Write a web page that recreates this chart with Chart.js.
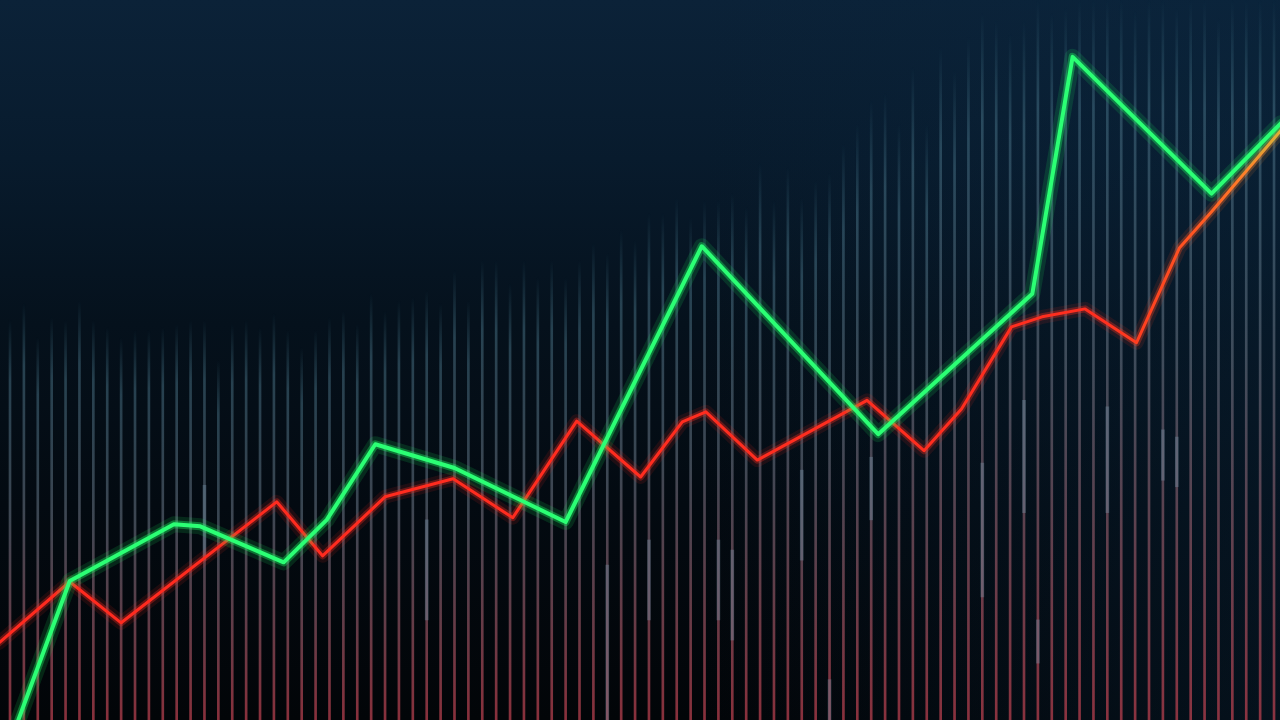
<!DOCTYPE html>
<html>
<head>
<meta charset="utf-8">
<title>Market lines</title>
<script src="https://cdn.jsdelivr.net/npm/chart.js@4.4.1/dist/chart.umd.min.js"></script>
<style>
    html, body {
        margin: 0;
        padding: 0;
        width: 1280px;
        height: 720px;
        overflow: hidden;
        background: linear-gradient(to bottom, #0b2238 0%, #081b2d 22%, #05111c 45%, #030a11 70%, #020508 100%);
    }
    #wrap {
        width: 1280px;
        height: 720px;
        background: linear-gradient(to right, rgba(0, 0, 0, 0) 55%, rgba(10, 40, 65, 0.35) 100%);
    }
</style>
</head>
<body>
<div id="wrap"><canvas id="marketChart" width="1280" height="720"></canvas></div>
<script>
// Session index (one thin line per session) and values on a 0-100 scale
const wickTops = [
    55.6, 57.9, 53.2, 56.0, 55.6, 58.3, 55.6, 54.6, 53.2, 54.2,
    54.2, 54.6, 55.1, 55.6, 55.6, 50.0, 55.1, 55.6, 54.6, 56.5,
    54.2, 51.8, 54.2, 56.0, 56.9, 55.1, 59.3, 56.9, 58.3, 58.8,
    59.7, 57.9, 62.5, 58.3, 63.9, 63.9, 60.7, 63.9, 61.5, 63.9,
    61.5, 63.9, 66.3, 64.9, 68.1, 66.7, 70.4, 70.4, 72.6, 69.9,
    72.2, 72.2, 73.2, 71.3, 77.4, 72.2, 76.8, 72.6, 75.0, 76.0,
    80.1, 82.9, 86.1, 87.1, 82.9, 90.7, 82.9, 93.5, 90.3, 94.9,
    98.2, 97.2, 95.4, 97.2, 100, 98.2, 99.0, 100, 100, 100,
    100, 98.5, 100, 100, 99.0, 100, 100, 97.5, 100, 100,
    100, 100
];

// Brighter candle bodies: session index, low, high
const bodyIndex = [14, 30, 43, 46, 51, 52, 57, 59, 62, 70, 73, 74, 79, 83, 84];
const bodyLow   = [22.2, 13.9, 0, 13.9, 13.9, 11.1, 22.2, 0, 27.8, 17.1, 28.8, 7.9, 28.8, 33.3, 32.4];
const bodyHigh  = [32.6, 27.8, 21.5, 25.0, 25.0, 23.6, 34.7, 5.6, 36.5, 35.7, 44.4, 13.9, 43.5, 40.3, 39.3];

// Green series
const greenX = [0.6, 4.3, 11.8, 13.7, 19.7, 22.8, 26.3, 32.0, 40.0, 49.8, 62.5, 73.6, 76.5, 86.5, 91.5];
const greenY = [0, 19.3, 27.2, 26.9, 21.9, 27.8, 38.3, 35.0, 27.5, 65.8, 39.7, 59.2, 92.1, 73.1, 82.9];

// Red series
const redX = [-0.8, 4.3, 8.0, 19.2, 22.5, 27.0, 31.9, 36.2, 40.8, 45.4, 48.4, 50.1, 53.8,
              61.7, 65.8, 68.5, 72.1, 74.3, 77.4, 81.1, 84.2, 86.5, 91.5];
const redY = [10.7, 19.2, 13.5, 30.3, 22.8, 31.0, 33.5, 28.1, 41.5, 33.75, 41.4, 42.8, 36.1,
              44.4, 37.4, 43.2, 54.6, 56.0, 57.1, 52.4, 65.6, 70.6, 81.9];

const xMin = -0.72;
const xMax = 91.43;

const greenPoints = greenX.map((x, i) => ({ x: x, y: greenY[i] }));
const redPoints = redX.map((x, i) => ({ x: x, y: redY[i] }));

function wickColor(context) {
    const chart = context.chart;
    const raw = context.raw;
    if (!chart.chartArea || !raw) return 'rgba(90, 115, 135, 0.4)';
    const top = chart.scales.y.getPixelForValue(raw.y[1]);
    const bottom = chart.scales.y.getPixelForValue(raw.y[0]);
    const g = chart.ctx.createLinearGradient(0, top, 0, bottom);
    g.addColorStop(0, 'rgba(70, 125, 145, 0)');
    g.addColorStop(0.15, 'rgba(80, 125, 145, 0.45)');
    g.addColorStop(0.5, 'rgba(105, 115, 130, 0.58)');
    g.addColorStop(1, 'rgba(190, 65, 80, 0.72)');
    return g;
}

function redStroke(alpha) {
    return function(context) {
        const area = context.chart.chartArea;
        if (!area) return `rgba(255, 42, 31, ${alpha})`;
        const g = context.chart.ctx.createLinearGradient(area.left, 0, area.right, 0);
        g.addColorStop(0, `rgba(255, 42, 31, ${alpha})`);
        g.addColorStop(0.86, `rgba(255, 46, 31, ${alpha})`);
        g.addColorStop(0.94, `rgba(255, 90, 34, ${alpha})`);
        g.addColorStop(1, `rgba(255, 160, 48, ${alpha})`);
        return g;
    };
}

// line dataset helper (main stroke or soft halo)
function lineSet(label, points, color, width, order) {
    return {
        type: 'line',
        label: label,
        data: points,
        borderColor: color,
        borderWidth: width,
        tension: 0,
        pointRadius: 0,
        borderJoinStyle: 'round',
        borderCapStyle: 'round',
        order: order
    };
}

const ctx = document.getElementById('marketChart').getContext('2d');

new Chart(ctx, {
    data: {
        datasets: [
            lineSet('Green', greenPoints, '#2bff74', 4, 0),
            lineSet('Green glow', greenPoints, 'rgba(30, 255, 100, 0.35)', 8, 1),
            lineSet('Green halo', greenPoints, 'rgba(30, 255, 100, 0.13)', 16, 2),
            lineSet('Red', redPoints, redStroke(1), 3, 3),
            lineSet('Red glow', redPoints, redStroke(0.32), 7, 4),
            lineSet('Red halo', redPoints, redStroke(0.11), 14, 5),
            {
                type: 'bar',
                label: 'Bodies',
                data: bodyIndex.map((x, i) => ({ x: x, y: [bodyLow[i], bodyHigh[i]] })),
                backgroundColor: 'rgba(120, 150, 172, 0.38)',
                barThickness: 3,
                grouped: false,
                order: 6
            },
            {
                type: 'bar',
                label: 'Wicks',
                data: wickTops.map((top, i) => ({ x: i, y: [0, top] })),
                backgroundColor: wickColor,
                barThickness: 2,
                grouped: false,
                order: 7
            }
        ]
    },
    options: {
        responsive: false,
        animation: false,
        layout: { padding: 0 },
        plugins: {
            legend: { display: false },
            tooltip: { enabled: false }
        },
        scales: {
            x: {
                type: 'linear',
                min: xMin,
                max: xMax,
                offset: false,
                display: false
            },
            y: {
                min: 0,
                max: 100,
                display: false
            }
        }
    }
});
</script>
</body>
</html>
